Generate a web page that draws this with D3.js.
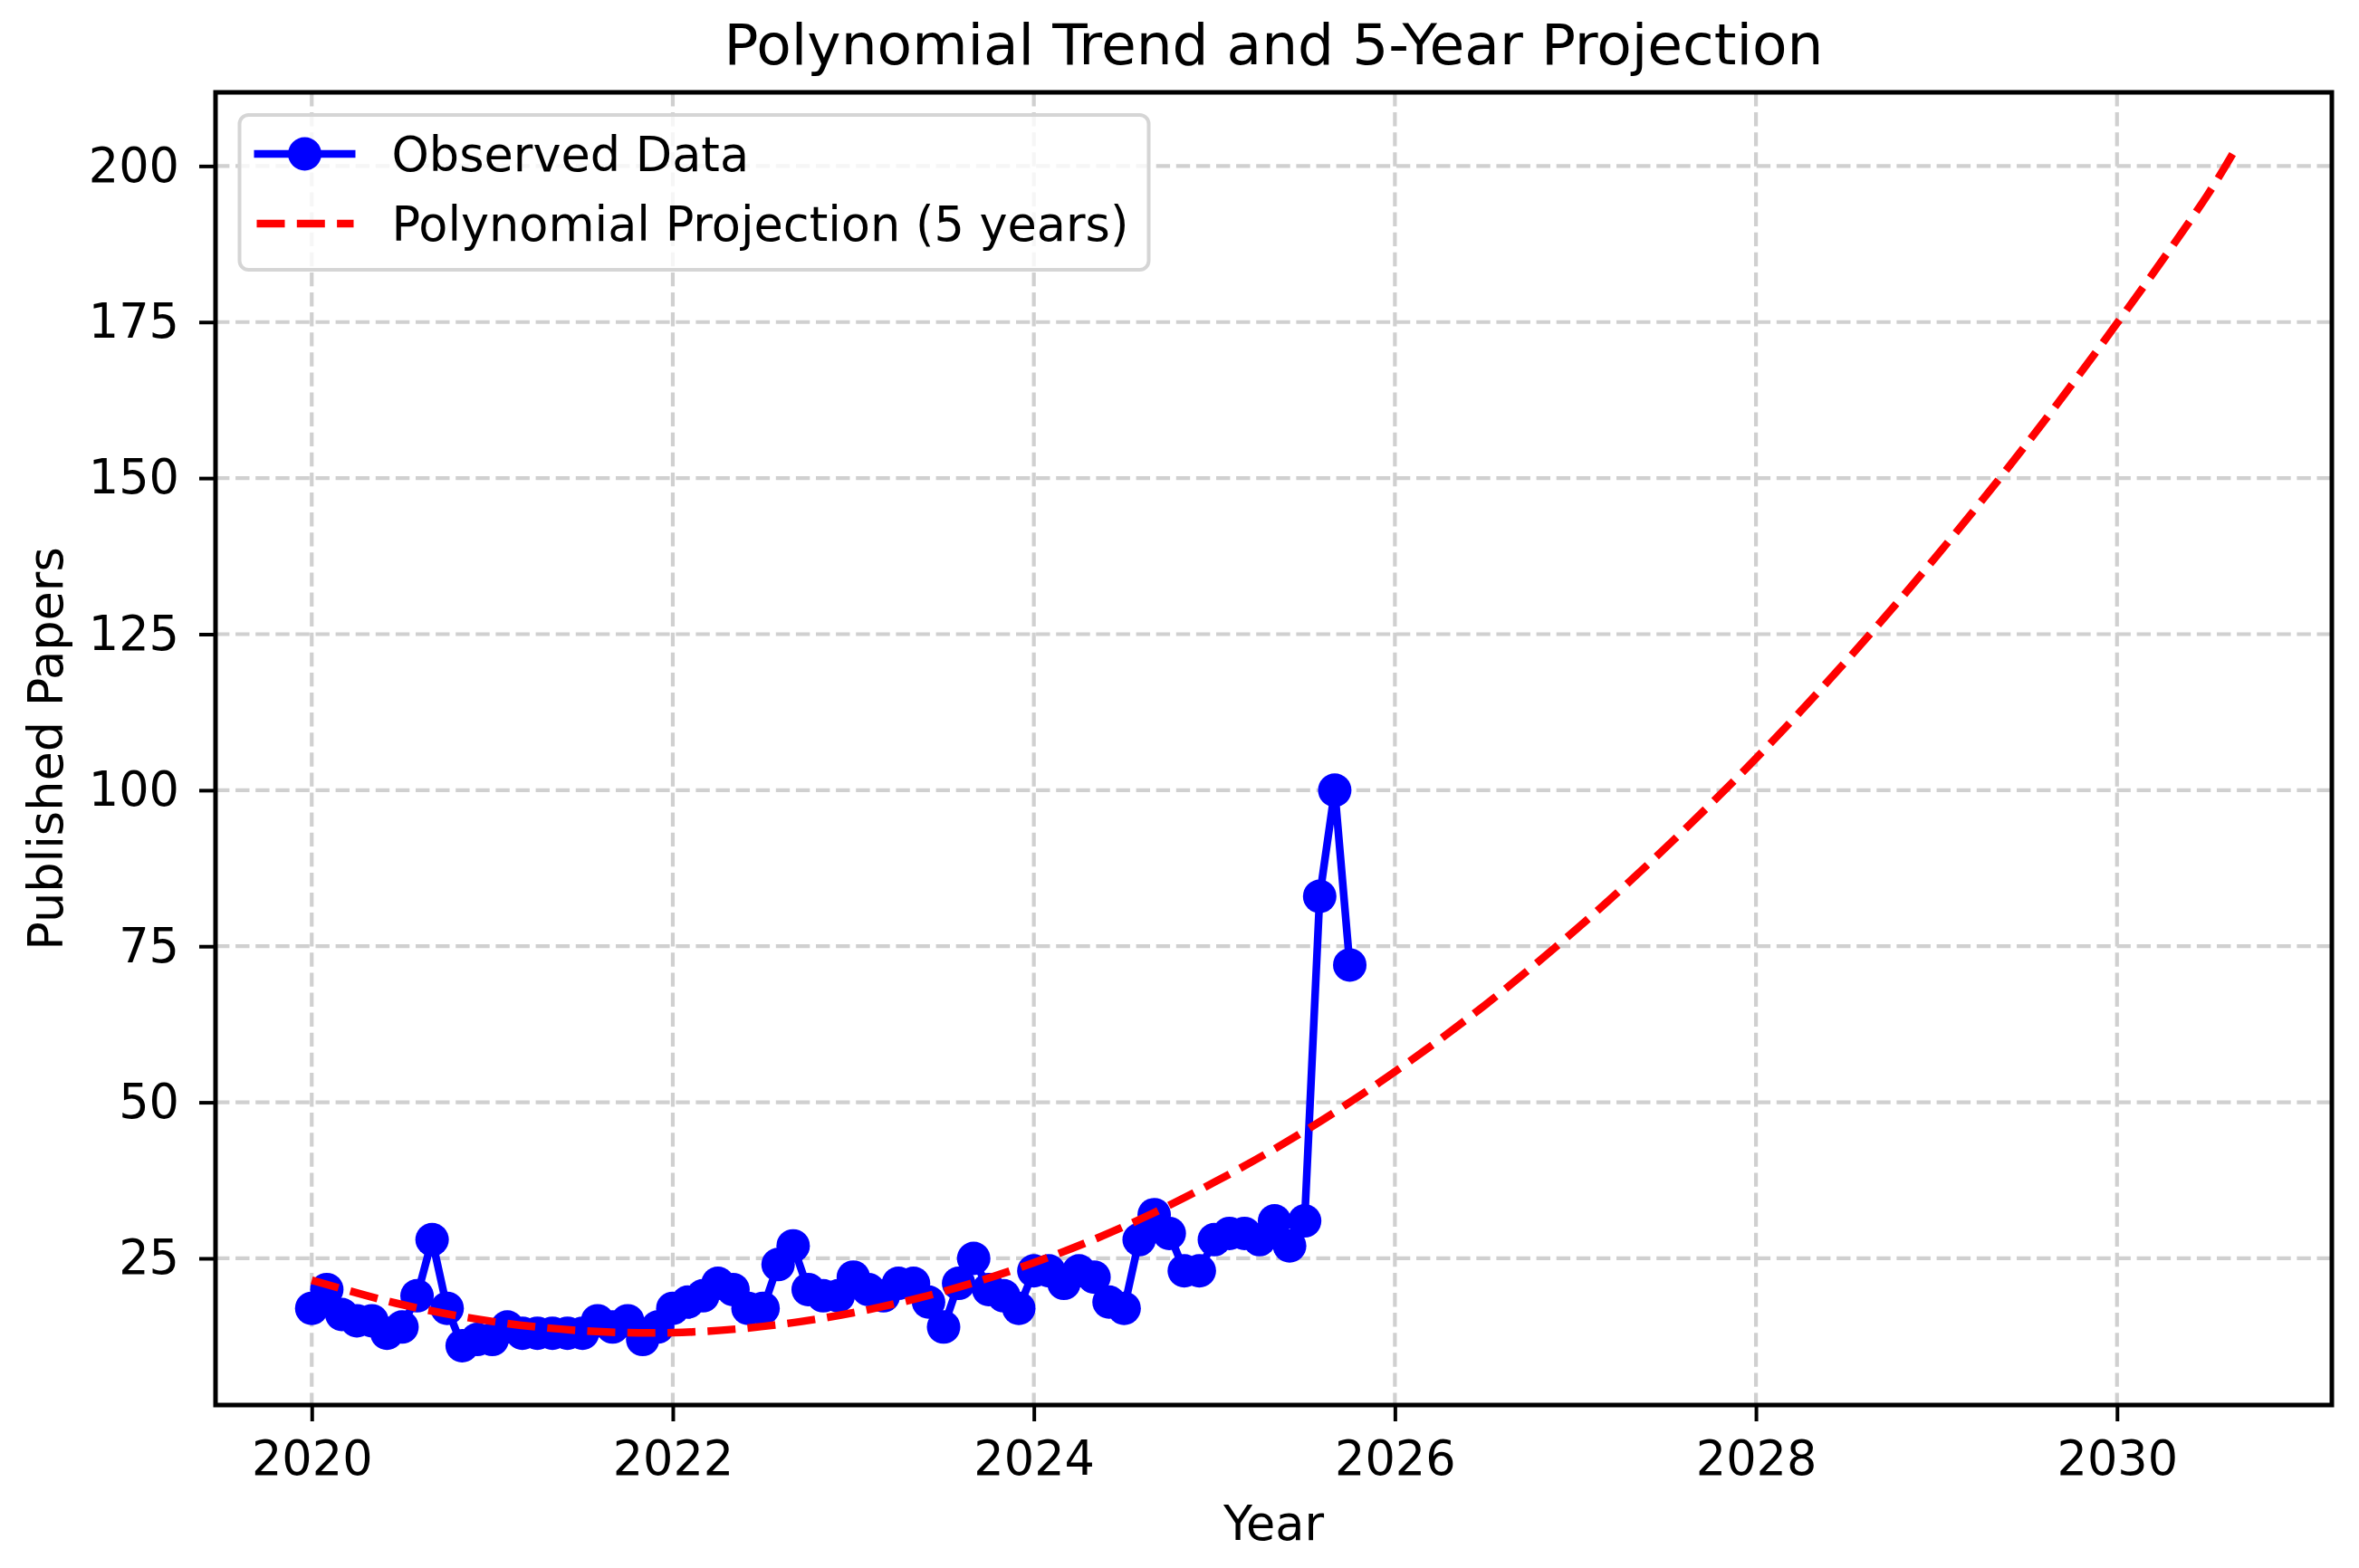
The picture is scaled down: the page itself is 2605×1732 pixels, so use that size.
<!DOCTYPE html>
<html>
<head>
<meta charset="utf-8">
<script src="https://cdn.jsdelivr.net/npm/d3@7"></script>
<style>
  body { margin: 0; background: #fff; }
  text { font-family: "DejaVu Sans", sans-serif; }
</style>
</head>
<body>
<div id="chart-area"></div>
<script>
// Observed monthly counts, Jan 2020 .. Oct 2025
var startYear = 2020;
var observed = [
    17, 20, 16, 15, 15, 13, 14, 19, 28, 17, 11, 12,
    12, 14, 13, 13, 13, 13, 13, 15, 14, 15, 12, 14,
    17, 18, 19, 21, 20, 17, 17, 24, 27, 20, 19, 19,
    22, 20, 19, 21, 21, 18, 14, 21, 25, 20, 19, 17,
    23, 23, 21, 23, 22, 18, 17, 28, 32, 29, 23, 23,
    28, 29, 29, 28, 31, 27, 31, 83, 100, 72
];

// Projection curve, every half year
var projYears = [2020, 2020.5, 2021, 2021.5, 2022, 2022.5, 2023, 2023.5, 2024, 2024.5,
    2025, 2025.5, 2026, 2026.5, 2027, 2027.5, 2028, 2028.5, 2029, 2029.5, 2030, 2030.5, 2030.65];
var projValues = [21.5, 17.6, 14.9, 13.4, 13.1, 14.1, 16.3, 19.7, 24.3, 30.1,
    37.2, 45.4, 54.9, 65.6, 77.6, 90.8, 105.1, 120.7, 137.5, 155.5, 174.8, 195.3, 202.4];

var xTicks = [2020, 2022, 2024, 2026, 2028, 2030];
var yTicks = [25, 50, 75, 100, 125, 150, 175, 200];
var legendLabels = ["Observed Data", "Polynomial Projection (5 years)"];

var W = 2605, H = 1732;
var margin = { left: 238, right: 30, top: 102, bottom: 180 };
var width = W - margin.left - margin.right,
    height = H - margin.top - margin.bottom;
var fontSize = "52.5px";

var svg = d3.select("#chart-area")
    .append("svg")
        .attr("width", W)
        .attr("height", H);

var g = svg.append("g")
    .attr("transform", "translate(" + margin.left + "," + margin.top + ")");

// Scales
var x = d3.scaleLinear()
    .domain([2019.467, 2031.19])
    .range([0, width]);
var y = d3.scaleLinear()
    .domain([1.5, 211.8])
    .range([height, 0]);

// Grid
g.append("g").selectAll("line")
    .data(xTicks)
    .enter().append("line")
        .attr("x1", function(d){ return x(d); })
        .attr("x2", function(d){ return x(d); })
        .attr("y1", 0)
        .attr("y2", height)
        .attr("stroke", "#d0d0d0")
        .attr("stroke-width", 4.2)
        .attr("stroke-dasharray", "15.4,6.7");
g.append("g").selectAll("line")
    .data(yTicks)
    .enter().append("line")
        .attr("y1", function(d){ return y(d); })
        .attr("y2", function(d){ return y(d); })
        .attr("x1", 0)
        .attr("x2", width)
        .attr("stroke", "#d0d0d0")
        .attr("stroke-width", 4.2)
        .attr("stroke-dasharray", "15.4,6.7");

// Axes
var xAxisCall = d3.axisBottom(x)
    .tickValues(xTicks)
    .tickFormat(d3.format("d"))
    .tickSize(18)
    .tickPadding(22);
var xAxis = g.append("g")
    .attr("class", "x axis")
    .attr("transform", "translate(0," + height + ")")
    .call(xAxisCall);

var yAxisCall = d3.axisLeft(y)
    .tickValues(yTicks)
    .tickSize(18)
    .tickPadding(22);
var yAxis = g.append("g")
    .attr("class", "y axis")
    .call(yAxisCall);

[xAxis, yAxis].forEach(function(a) {
    a.select(".domain").remove();
    a.selectAll(".tick line").attr("stroke", "#000").attr("stroke-width", 4);
    a.selectAll(".tick text")
        .attr("fill", "#000")
        .style("font-size", fontSize)
        .style("font-family", "DejaVu Sans");
});

// Observed line + markers
var obsData = observed.map(function(v, i) {
    return { year: startYear + i / 12, value: v };
});
var line = d3.line()
    .x(function(d){ return x(d.year); })
    .y(function(d){ return y(d.value); });

g.append("path")
    .datum(obsData)
    .attr("fill", "none")
    .attr("stroke", "#0000ff")
    .attr("stroke-width", 8.5)
    .attr("stroke-linejoin", "round")
    .attr("d", line);

g.selectAll("circle.obs")
    .data(obsData)
    .enter().append("circle")
        .attr("class", "obs")
        .attr("cx", function(d){ return x(d.year); })
        .attr("cy", function(d){ return y(d.value); })
        .attr("r", 18.5)
        .attr("fill", "#0000ff");

// Projection
var projData = projYears.map(function(yr, i) {
    return { year: yr, value: projValues[i] };
});
g.append("path")
    .datum(projData)
    .attr("fill", "none")
    .attr("stroke", "#ff0000")
    .attr("stroke-width", 8.5)
    .attr("stroke-dasharray", "31,13.3")
    .attr("d", line.curve(d3.curveCatmullRom));

// Frame
g.append("rect")
    .attr("width", width)
    .attr("height", height)
    .attr("fill", "none")
    .attr("stroke", "#000")
    .attr("stroke-width", 5);

// Legend
var legend = svg.append("g")
    .attr("transform", "translate(264.5,127)");
legend.append("rect")
    .attr("width", 1004)
    .attr("height", 171)
    .attr("rx", 10)
    .attr("fill", "#fff")
    .attr("fill-opacity", 0.8)
    .attr("stroke", "#d5d5d5")
    .attr("stroke-width", 4);

legendLabels.forEach(function(label, i) {
    var cy = 43 + i * 77;
    var row = legend.append("g");
    if (i == 0) {
        row.append("line")
            .attr("x1", 16).attr("x2", 128)
            .attr("y1", cy).attr("y2", cy)
            .attr("stroke", "#0000ff")
            .attr("stroke-width", 8.5);
        row.append("circle")
            .attr("cx", 72).attr("cy", cy)
            .attr("r", 18.5)
            .attr("fill", "#0000ff");
    } else {
        row.append("line")
            .attr("x1", 19).attr("x2", 126)
            .attr("y1", cy).attr("y2", cy)
            .attr("stroke", "#ff0000")
            .attr("stroke-width", 8.5)
            .attr("stroke-dasharray", "31,13.3");
    }
    row.append("text")
        .attr("x", 168)
        .attr("y", cy + 19)
        .attr("font-size", fontSize)
        .text(label);
});

// Labels
svg.append("text")
    .attr("x", margin.left + width / 2)
    .attr("y", 71)
    .attr("font-size", "63px")
    .attr("text-anchor", "middle")
    .text("Polynomial Trend and 5-Year Projection");
svg.append("text")
    .attr("x", margin.left + width / 2)
    .attr("y", 1701)
    .attr("font-size", fontSize)
    .attr("text-anchor", "middle")
    .text("Year");
svg.append("text")
    .attr("transform", "translate(69," + (margin.top + height / 2) + ") rotate(-90)")
    .attr("font-size", fontSize)
    .attr("text-anchor", "middle")
    .text("Published Papers");
</script>
</body>
</html>
